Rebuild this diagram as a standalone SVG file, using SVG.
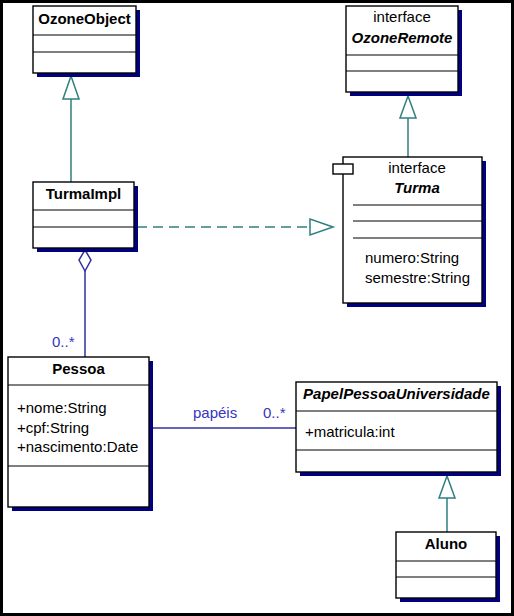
<svg xmlns="http://www.w3.org/2000/svg" width="514" height="616" viewBox="0 0 514 616">
<defs>
<style>
.box{fill:#fff;stroke:#000;stroke-width:1.4}
.sh{fill:#000080}
.div{stroke:#000;stroke-width:1.2}
.t{font-family:"Liberation Sans",Arial,sans-serif;font-size:15px;fill:#000}
.b{font-weight:bold}
.i{font-style:italic}
.gen{stroke:#2f7f7f;stroke-width:1.5;fill:none}
.tri{stroke:#2f7f7f;stroke-width:1.5;fill:#fff}
.asc{stroke:#3030a0;stroke-width:1.5;fill:none}
.lbl{font-family:"Liberation Sans",Arial,sans-serif;font-size:15px;fill:#3535c0}
</style>
</defs>
<rect x="0" y="0" width="514" height="616" fill="#fff"/>
<rect x="1.5" y="1.5" width="511" height="613" fill="none" stroke="#000" stroke-width="3"/>

<g id="connectors">
<line class="gen" x1="71" y1="182" x2="71" y2="99"/>
<polygon class="tri" points="71,76 63,99 79,99"/>
<line class="gen" x1="408" y1="157" x2="408" y2="118"/>
<polygon class="tri" points="408,96 400,118 416,118"/>
<line class="gen" x1="447" y1="532" x2="447" y2="498"/>
<polygon class="tri" points="447,476 439,498 455,498"/>
<line class="gen" x1="137" y1="227" x2="310" y2="227" stroke-dasharray="10,6"/>
<polygon class="tri" points="333,227 310,219 310,235"/>
<polygon points="85,250 91,260 85,271 79,260" fill="#fff" stroke="#3030a0" stroke-width="1.5"/>
<line class="asc" x1="85" y1="271" x2="85" y2="357"/>
<line class="asc" x1="149" y1="428" x2="296" y2="428"/>
<text class="lbl" x="52" y="347">0..*</text>
<text class="lbl" x="193" y="418">papéis</text>
<text class="lbl" x="263" y="418">0..*</text>
</g>

<g id="OzoneObject">
<rect class="sh" x="37" y="10" width="103" height="67"/>
<rect class="box" x="33" y="6" width="103" height="67"/>
<line class="div" x1="33" y1="35" x2="136" y2="35"/>
<line class="div" x1="33" y1="52" x2="136" y2="52"/>
<text class="t b" x="84.5" y="24" text-anchor="middle">OzoneObject</text>
</g>

<g id="OzoneRemote">
<rect class="sh" x="350" y="10" width="112" height="86"/>
<rect class="box" x="346" y="6" width="112" height="86"/>
<line class="div" x1="346" y1="55" x2="458" y2="55"/>
<line class="div" x1="346" y1="71" x2="458" y2="71"/>
<text class="t" x="402" y="22" text-anchor="middle">interface</text>
<text class="t b i" x="402" y="43" text-anchor="middle">OzoneRemote</text>
</g>

<g id="TurmaImpl">
<rect class="sh" x="37" y="186" width="101" height="66"/>
<rect class="box" x="33" y="182" width="101" height="66"/>
<line class="div" x1="33" y1="210" x2="134" y2="210"/>
<line class="div" x1="33" y1="227" x2="134" y2="227"/>
<text class="t b" x="83.5" y="199" text-anchor="middle">TurmaImpl</text>
</g>

<g id="Turma">
<rect class="sh" x="347" y="161" width="139" height="146"/>
<rect class="box" x="343" y="157" width="139" height="146"/>
<rect x="333" y="164" width="20" height="10" fill="#fff" stroke="#000" stroke-width="1.4"/>
<line class="div" x1="353" y1="205" x2="482" y2="205"/>
<line class="div" x1="353" y1="221" x2="482" y2="221"/>
<line class="div" x1="353" y1="238" x2="482" y2="238"/>
<text class="t" x="417" y="173" text-anchor="middle">interface</text>
<text class="t b i" x="417" y="193" text-anchor="middle">Turma</text>
<text class="t" x="365" y="263">numero:String</text>
<text class="t" x="365" y="283">semestre:String</text>
</g>

<g id="Pessoa">
<rect class="sh" x="12" y="361" width="141" height="150"/>
<rect class="box" x="8" y="357" width="141" height="150"/>
<line class="div" x1="8" y1="385" x2="149" y2="385"/>
<line class="div" x1="8" y1="466" x2="149" y2="466"/>
<text class="t b" x="78.5" y="374" text-anchor="middle">Pessoa</text>
<text class="t" x="17" y="413">+nome:String</text>
<text class="t" x="17" y="433">+cpf:String</text>
<text class="t" x="17" y="452">+nascimento:Date</text>
</g>

<g id="PapelPessoaUniversidade">
<rect class="sh" x="300" y="386" width="201" height="90"/>
<rect class="box" x="296" y="382" width="201" height="90"/>
<line class="div" x1="296" y1="411" x2="497" y2="411"/>
<line class="div" x1="296" y1="450" x2="497" y2="450"/>
<text class="t b i" x="396.5" y="399" text-anchor="middle">PapelPessoaUniversidade</text>
<text class="t" x="305" y="437">+matricula:int</text>
</g>

<g id="Aluno">
<rect class="sh" x="400" y="536" width="100" height="66"/>
<rect class="box" x="396" y="532" width="100" height="66"/>
<line class="div" x1="396" y1="561" x2="496" y2="561"/>
<line class="div" x1="396" y1="577" x2="496" y2="577"/>
<text class="t b" x="446" y="549" text-anchor="middle">Aluno</text>
</g>
</svg>
